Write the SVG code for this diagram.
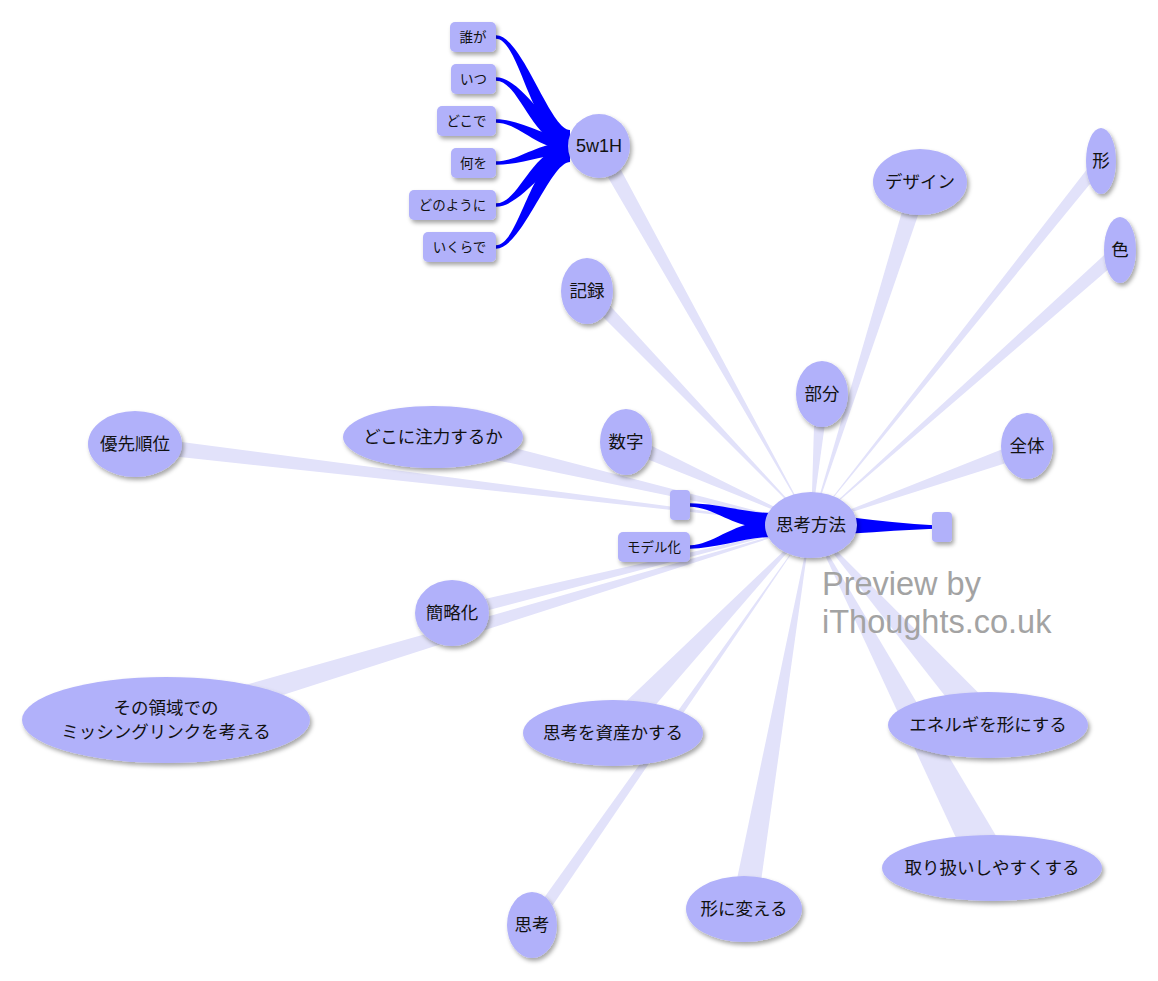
<svg xmlns="http://www.w3.org/2000/svg" width="1158" height="981" viewBox="0 0 1158 981">
<defs>
<filter id="sh" x="-30%" y="-30%" width="160%" height="170%">
<feDropShadow dx="2" dy="3" stdDeviation="2" flood-color="#000" flood-opacity="0.35"/>
</filter>
<style>
.n{fill:#b1b1fa;filter:url(#sh);}
.t{font-family:"Liberation Sans","Noto Sans CJK JP",sans-serif;font-size:17.5px;fill:#111;text-anchor:middle;}
.s{font-family:"Liberation Sans","Noto Sans CJK JP",sans-serif;font-size:13.5px;fill:#111;text-anchor:middle;}
.band{fill:#e2e2fa;}
.blue{fill:#0000ff;}
.wm{font-family:"Liberation Sans","Noto Sans",sans-serif;font-size:32.5px;fill:#a3a3a3;}
</style>
</defs>
<rect width="1158" height="981" fill="#fff"/>
<g id="connectors">
<polygon class="band" points="811,525 606,142 592,150"/>
<polygon class="band" points="811,525 592,286 582,296"/>
<polygon class="band" points="811,525 928.6,184.7 911.4,179.3"/>
<polygon class="band" points="811,525 1105.7,164.7 1096.3,157.3"/>
<polygon class="band" points="811,525 1124.7,255.2 1115.3,244.8"/>
<polygon class="band" points="811,525 829,394.6 815,393.4"/>
<polygon class="band" points="811,525 1029.7,455.5 1024.3,440.5"/>
<polygon class="band" points="811,525 629.3,434.7 622.7,449.3"/>
<polygon class="band" points="811,525 435.3,427.3 430.7,446.7"/>
<polygon class="band" points="811,525 134,452 136,436"/>
<polygon class="band" points="811,525 450.5,606.7 453.5,619.3"/>
<polygon class="band" points="811,525 162.5,708.5 169.5,731.5"/>
<polygon class="band" points="811,525 602.9,723.4 623.1,742.6"/>
<polygon class="band" points="811,525 527.1,921.6 536.9,928.4"/>
<polygon class="band" points="811,525 731.2,906.8 756.8,911.2"/>
<polygon class="band" points="811,525 976,735.6 1000,714.4"/>
<polygon class="band" points="811,525 974.3,877.3 1009.7,858.7"/>
<path class="blue" d="M496,35.3 C522,35.3 550,130 570,130 L570,142 C532,142 520,38.7 496,38.7 Z"/>
<path class="blue" d="M496,77.3 C522,77.3 550,134 570,134 L570,146 C532,146 520,80.7 496,80.7 Z"/>
<path class="blue" d="M496,119.3 C522,119.3 545,138 570,138 L570,150 C537,150 520,122.7 496,122.7 Z"/>
<path class="blue" d="M496,161.3 C520,161.3 537,142 570,142 L570,154 C545,154 522,164.7 496,164.7 Z"/>
<path class="blue" d="M496,203.3 C520,203.3 532,146 570,146 L570,158 C550,158 522,206.7 496,206.7 Z"/>
<path class="blue" d="M496,245.3 C520,245.3 532,150 570,150 L570,162 C550,162 522,248.7 496,248.7 Z"/>
<path class="blue" d="M690,503.3 C716,503.3 747,513 772,513 L772,529 C733,529 714,506.7 690,506.7 Z"/>
<path class="blue" d="M690,545.3 C714,545.3 733,521 772,521 L772,537 C747,537 716,548.7 690,548.7 Z"/>
<path class="blue" d="M852,517.5 Q895,523 934,525.3 L934,528.7 Q895,530.5 852,533.5 Z"/>
</g>
<g id="node-center"><ellipse class="n" cx="811" cy="525" rx="46" ry="33"/><text class="t" x="811" y="531">思考方法</text></g>
<g id="node-5w1h"><ellipse class="n" cx="599" cy="146" rx="31" ry="32"/><text class="t" x="599" y="152" style="font-size:18px">5w1H</text></g>
<g id="node-dareg"><rect class="n" x="450" y="22" width="46" height="30" rx="5"/><text class="s" x="473" y="42">誰が</text></g>
<g id="node-itsu"><rect class="n" x="451" y="64" width="45" height="30" rx="5"/><text class="s" x="473.5" y="84">いつ</text></g>
<g id="node-dokode"><rect class="n" x="437" y="106" width="59" height="30" rx="5"/><text class="s" x="466.5" y="126">どこで</text></g>
<g id="node-naniwo"><rect class="n" x="451" y="148" width="45" height="30" rx="5"/><text class="s" x="473.5" y="168">何を</text></g>
<g id="node-donoyouni"><rect class="n" x="409" y="190" width="87" height="30" rx="5"/><text class="s" x="452.5" y="210">どのように</text></g>
<g id="node-ikurade"><rect class="n" x="423" y="232" width="73" height="30" rx="5"/><text class="s" x="459.5" y="252">いくらで</text></g>
<g id="node-kiroku"><ellipse class="n" cx="587" cy="291" rx="26" ry="33"/><text class="t" x="587" y="297">記録</text></g>
<g id="node-design"><ellipse class="n" cx="920" cy="182" rx="47" ry="33"/><text class="t" x="920" y="188">デザイン</text></g>
<g id="node-katachi"><ellipse class="n" cx="1101" cy="161" rx="15" ry="33"/><text class="t" x="1101" y="167">形</text></g>
<g id="node-iro"><ellipse class="n" cx="1120" cy="250" rx="16" ry="33"/><text class="t" x="1120" y="256">色</text></g>
<g id="node-bubun"><ellipse class="n" cx="822" cy="394" rx="26" ry="33"/><text class="t" x="822" y="400">部分</text></g>
<g id="node-zentai"><ellipse class="n" cx="1027" cy="446" rx="26" ry="33"/><text class="t" x="1027" y="452">全体</text></g>
<g id="node-suuji"><ellipse class="n" cx="626" cy="442" rx="26" ry="33"/><text class="t" x="626" y="448">数字</text></g>
<g id="node-dokoni"><ellipse class="n" cx="433" cy="437" rx="90" ry="31"/><text class="t" x="433" y="443">どこに注力するか</text></g>
<g id="node-yuusen"><ellipse class="n" cx="135" cy="444" rx="47" ry="33"/><text class="t" x="135" y="450">優先順位</text></g>
<g id="node-empty-left"><rect class="n" x="670" y="490" width="20" height="30" rx="4"/></g>
<g id="node-model"><rect class="n" x="618" y="532" width="72" height="30" rx="5"/><text class="s" x="654" y="552">モデル化</text></g>
<g id="node-empty-right"><rect class="n" x="932" y="512" width="20" height="30" rx="4"/></g>
<g id="node-kanryaku"><ellipse class="n" cx="452" cy="613" rx="37" ry="33"/><text class="t" x="452" y="619">簡略化</text></g>
<g id="node-missing"><ellipse class="n" cx="166" cy="720" rx="144" ry="43"/><text class="t" x="166" y="714">その領域での</text><text class="t" x="166" y="738">ミッシングリンクを考える</text></g>
<g id="node-shisan"><ellipse class="n" cx="613" cy="733" rx="90" ry="33"/><text class="t" x="613" y="739">思考を資産かする</text></g>
<g id="node-energy"><ellipse class="n" cx="988" cy="725" rx="100" ry="33"/><text class="t" x="988" y="731">エネルギを形にする</text></g>
<g id="node-toriatsukai"><ellipse class="n" cx="992" cy="868" rx="110" ry="33"/><text class="t" x="992" y="874">取り扱いしやすくする</text></g>
<g id="node-kaeru"><ellipse class="n" cx="744" cy="909" rx="58" ry="33"/><text class="t" x="744" y="915">形に変える</text></g>
<g id="node-shikou"><ellipse class="n" cx="532" cy="925" rx="25" ry="33"/><text class="t" x="532" y="931">思考</text></g>
<g id="watermark"><text class="wm" x="822" y="595">Preview by</text><text class="wm" x="822" y="633">iThoughts.co.uk</text></g>
</svg>
